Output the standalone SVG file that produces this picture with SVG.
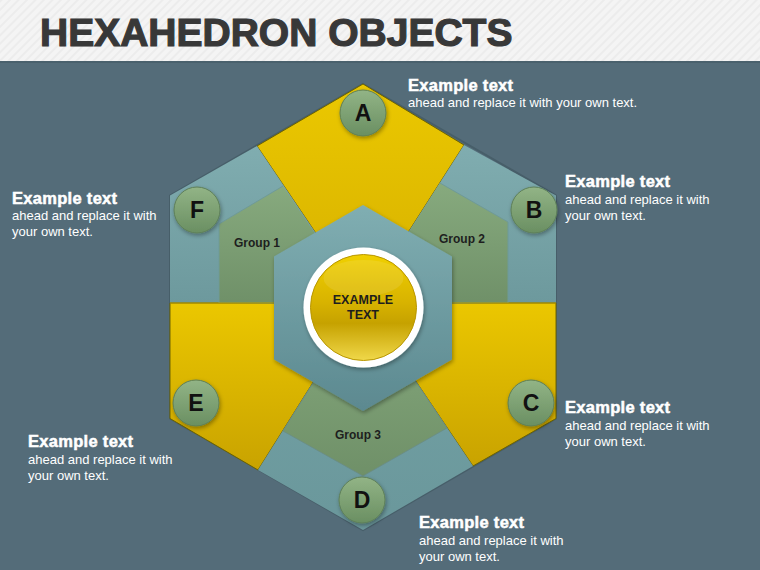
<svg xmlns="http://www.w3.org/2000/svg" width="760" height="570" viewBox="0 0 760 570">
<defs>
<pattern id="stripes" width="6" height="6" patternUnits="userSpaceOnUse" patternTransform="rotate(45)">
<rect width="6" height="6" fill="#F4F4F4"/>
<rect width="2" height="6" fill="#ECECEC"/>
</pattern>
<linearGradient id="yelTop" x1="0" y1="0" x2="0" y2="1"><stop offset="0" stop-color="#EBC800"/><stop offset="1" stop-color="#D6B000"/></linearGradient>
<linearGradient id="yelLow" x1="0" y1="0" x2="0" y2="1"><stop offset="0" stop-color="#EBC700"/><stop offset="1" stop-color="#C9A300"/></linearGradient>
<linearGradient id="tealG" x1="0" y1="0" x2="0" y2="1"><stop offset="0" stop-color="#80ADB0"/><stop offset="1" stop-color="#6D999D"/></linearGradient>
<linearGradient id="tealD" x1="0" y1="0" x2="0" y2="1"><stop offset="0" stop-color="#74A3A6"/><stop offset="1" stop-color="#6A979B"/></linearGradient>
<linearGradient id="greenG" x1="0" y1="0" x2="0" y2="1"><stop offset="0" stop-color="#87AA7E"/><stop offset="1" stop-color="#6F9068"/></linearGradient>
<linearGradient id="hexC" x1="0" y1="0" x2="0" y2="1"><stop offset="0" stop-color="#80AEB2"/><stop offset="1" stop-color="#5C8990"/></linearGradient>
<linearGradient id="gold" x1="0" y1="0" x2="0" y2="1"><stop offset="0" stop-color="#F0D000"/><stop offset="0.45" stop-color="#D8B300"/><stop offset="0.65" stop-color="#C6A200"/><stop offset="1" stop-color="#F0D84A"/></linearGradient>
<linearGradient id="ball" x1="0" y1="0" x2="0" y2="1"><stop offset="0" stop-color="#92B486"/><stop offset="1" stop-color="#6A8F62"/></linearGradient>
<filter id="sh" x="-20%" y="-20%" width="140%" height="140%"><feDropShadow dx="1" dy="2" stdDeviation="2" flood-color="#000" flood-opacity="0.35"/></filter>
</defs>
<style>
.ttl{font-family:"Liberation Sans",Arial,sans-serif;font-weight:bold;fill:#383838;stroke:#383838;stroke-width:1.2px;font-size:39px}
.h{font-family:"Liberation Sans",Arial,sans-serif;font-weight:bold;fill:#FFFFFF;stroke:#FFFFFF;stroke-width:0.5px;font-size:16.5px;letter-spacing:0.3px}
.b{font-family:"Liberation Sans",Arial,sans-serif;fill:#FFFFFF;font-size:13px}
.g{font-family:"Liberation Sans",Arial,sans-serif;font-weight:bold;fill:#1E1E1E;font-size:12px;text-anchor:middle}
.l{font-family:"Liberation Sans",Arial,sans-serif;font-weight:bold;fill:#111;font-size:23px;text-anchor:middle}
.ed{stroke:#6E6400;stroke-width:1}
.ball{fill:url(#ball);stroke:#5E7F58;stroke-width:1;filter:url(#sh)}
</style>
<rect x="0" y="0" width="760" height="570" fill="#546C79"/>
<rect x="0" y="0" width="760" height="61" fill="url(#stripes)"/>
<rect x="0" y="61" width="760" height="2" fill="#4A616D"/>
<text class="ttl" x="40" y="46">HEXAHEDRON OBJECTS</text>

<g id="hexagon">
<polygon points="363,84 556,195.5 556,418.5 363,530 170,418.5 170,195.5" fill="none" stroke="#475E69" stroke-width="2"/>
<g id="region-A"><polygon class="ed" points="363,303 257,146 363,84 464,145" fill="url(#yelTop)"/></g>
<g id="region-B"><polygon points="363,303 464,145 556,195.5 556,303" fill="url(#tealG)"/></g>
<g id="region-F"><polygon points="363,303 170,303 170,195.5 257,146" fill="url(#tealG)"/></g>
<g id="region-C"><polygon class="ed" points="363,303 556,303 556,418.5 473,466" fill="url(#yelLow)"/></g>
<g id="region-E"><polygon class="ed" points="363,303 258,470 170,418.5 170,303" fill="url(#yelLow)"/></g>
<g id="region-D"><polygon points="363,303 473,466 363,530 258,470" fill="url(#tealD)"/></g>
<g id="group1"><polygon points="219,303 219,224 283,186 363,305" fill="url(#greenG)"/><text class="g" x="257" y="247">Group 1</text></g>
<g id="group2"><polygon points="363,305 440,183 508,222 508,303" fill="url(#greenG)"/><text class="g" x="462" y="243">Group 2</text></g>
<g id="group3"><polygon points="363,303 283,431 363,476 447,428" fill="url(#greenG)" stroke="#6A8C85" stroke-width="0.8"/><text class="g" x="358" y="439">Group 3</text></g>
<polyline points="219,303 219,224 283,186" fill="none" stroke="#6F9A98" stroke-width="1"/>
<polyline points="440,183 508,222 508,303" fill="none" stroke="#6F9A98" stroke-width="1"/>
<line x1="170" y1="303" x2="556" y2="303" stroke="#B99A00" stroke-width="1"/>
</g>

<g id="center">
<polygon points="363,205 452,256.5 452,359.5 363,411 274,359.5 274,256.5" fill="url(#hexC)" filter="url(#sh)"/>
<circle cx="363.5" cy="307.5" r="60" fill="#FFFFFF" filter="url(#sh)"/>
<circle cx="363.5" cy="307.5" r="53" fill="url(#gold)" stroke="#B89600" stroke-width="1"/>
<ellipse cx="363.5" cy="278" rx="40" ry="18" fill="#FFFFFF" opacity="0.1"/>
<text class="g" x="363" y="304" style="font-size:12.5px">EXAMPLE</text>
<text class="g" x="363" y="319" style="font-size:12.5px">TEXT</text>
</g>

<g id="node-A"><circle class="ball" cx="363" cy="113" r="23"/><text class="l" x="363" y="121">A</text></g>
<g id="node-B"><circle class="ball" cx="534" cy="210" r="23"/><text class="l" x="534" y="218">B</text></g>
<g id="node-C"><circle class="ball" cx="531" cy="403" r="23"/><text class="l" x="531" y="411">C</text></g>
<g id="node-D"><circle class="ball" cx="362" cy="500" r="23"/><text class="l" x="362" y="508">D</text></g>
<g id="node-E"><circle class="ball" cx="196" cy="403" r="23"/><text class="l" x="196" y="411">E</text></g>
<g id="node-F"><circle class="ball" cx="197" cy="210" r="23"/><text class="l" x="197" y="218">F</text></g>

<g id="text-A"><text class="h" x="408" y="91">Example text</text><text class="b" x="408" y="107">ahead and replace it with your own text.</text></g>
<g id="text-B"><text class="h" x="565" y="187">Example text</text><text class="b" x="565" y="204">ahead and replace it with</text><text class="b" x="565" y="220">your own text.</text></g>
<g id="text-C"><text class="h" x="565" y="413">Example text</text><text class="b" x="565" y="430">ahead and replace it with</text><text class="b" x="565" y="446">your own text.</text></g>
<g id="text-D"><text class="h" x="419" y="528">Example text</text><text class="b" x="419" y="545">ahead and replace it with</text><text class="b" x="419" y="561">your own text.</text></g>
<g id="text-E"><text class="h" x="28" y="447">Example text</text><text class="b" x="28" y="464">ahead and replace it with</text><text class="b" x="28" y="480">your own text.</text></g>
<g id="text-F"><text class="h" x="12" y="204">Example text</text><text class="b" x="12" y="220">ahead and replace it with</text><text class="b" x="12" y="236">your own text.</text></g>
<g id="connectors"></g>
</svg>
